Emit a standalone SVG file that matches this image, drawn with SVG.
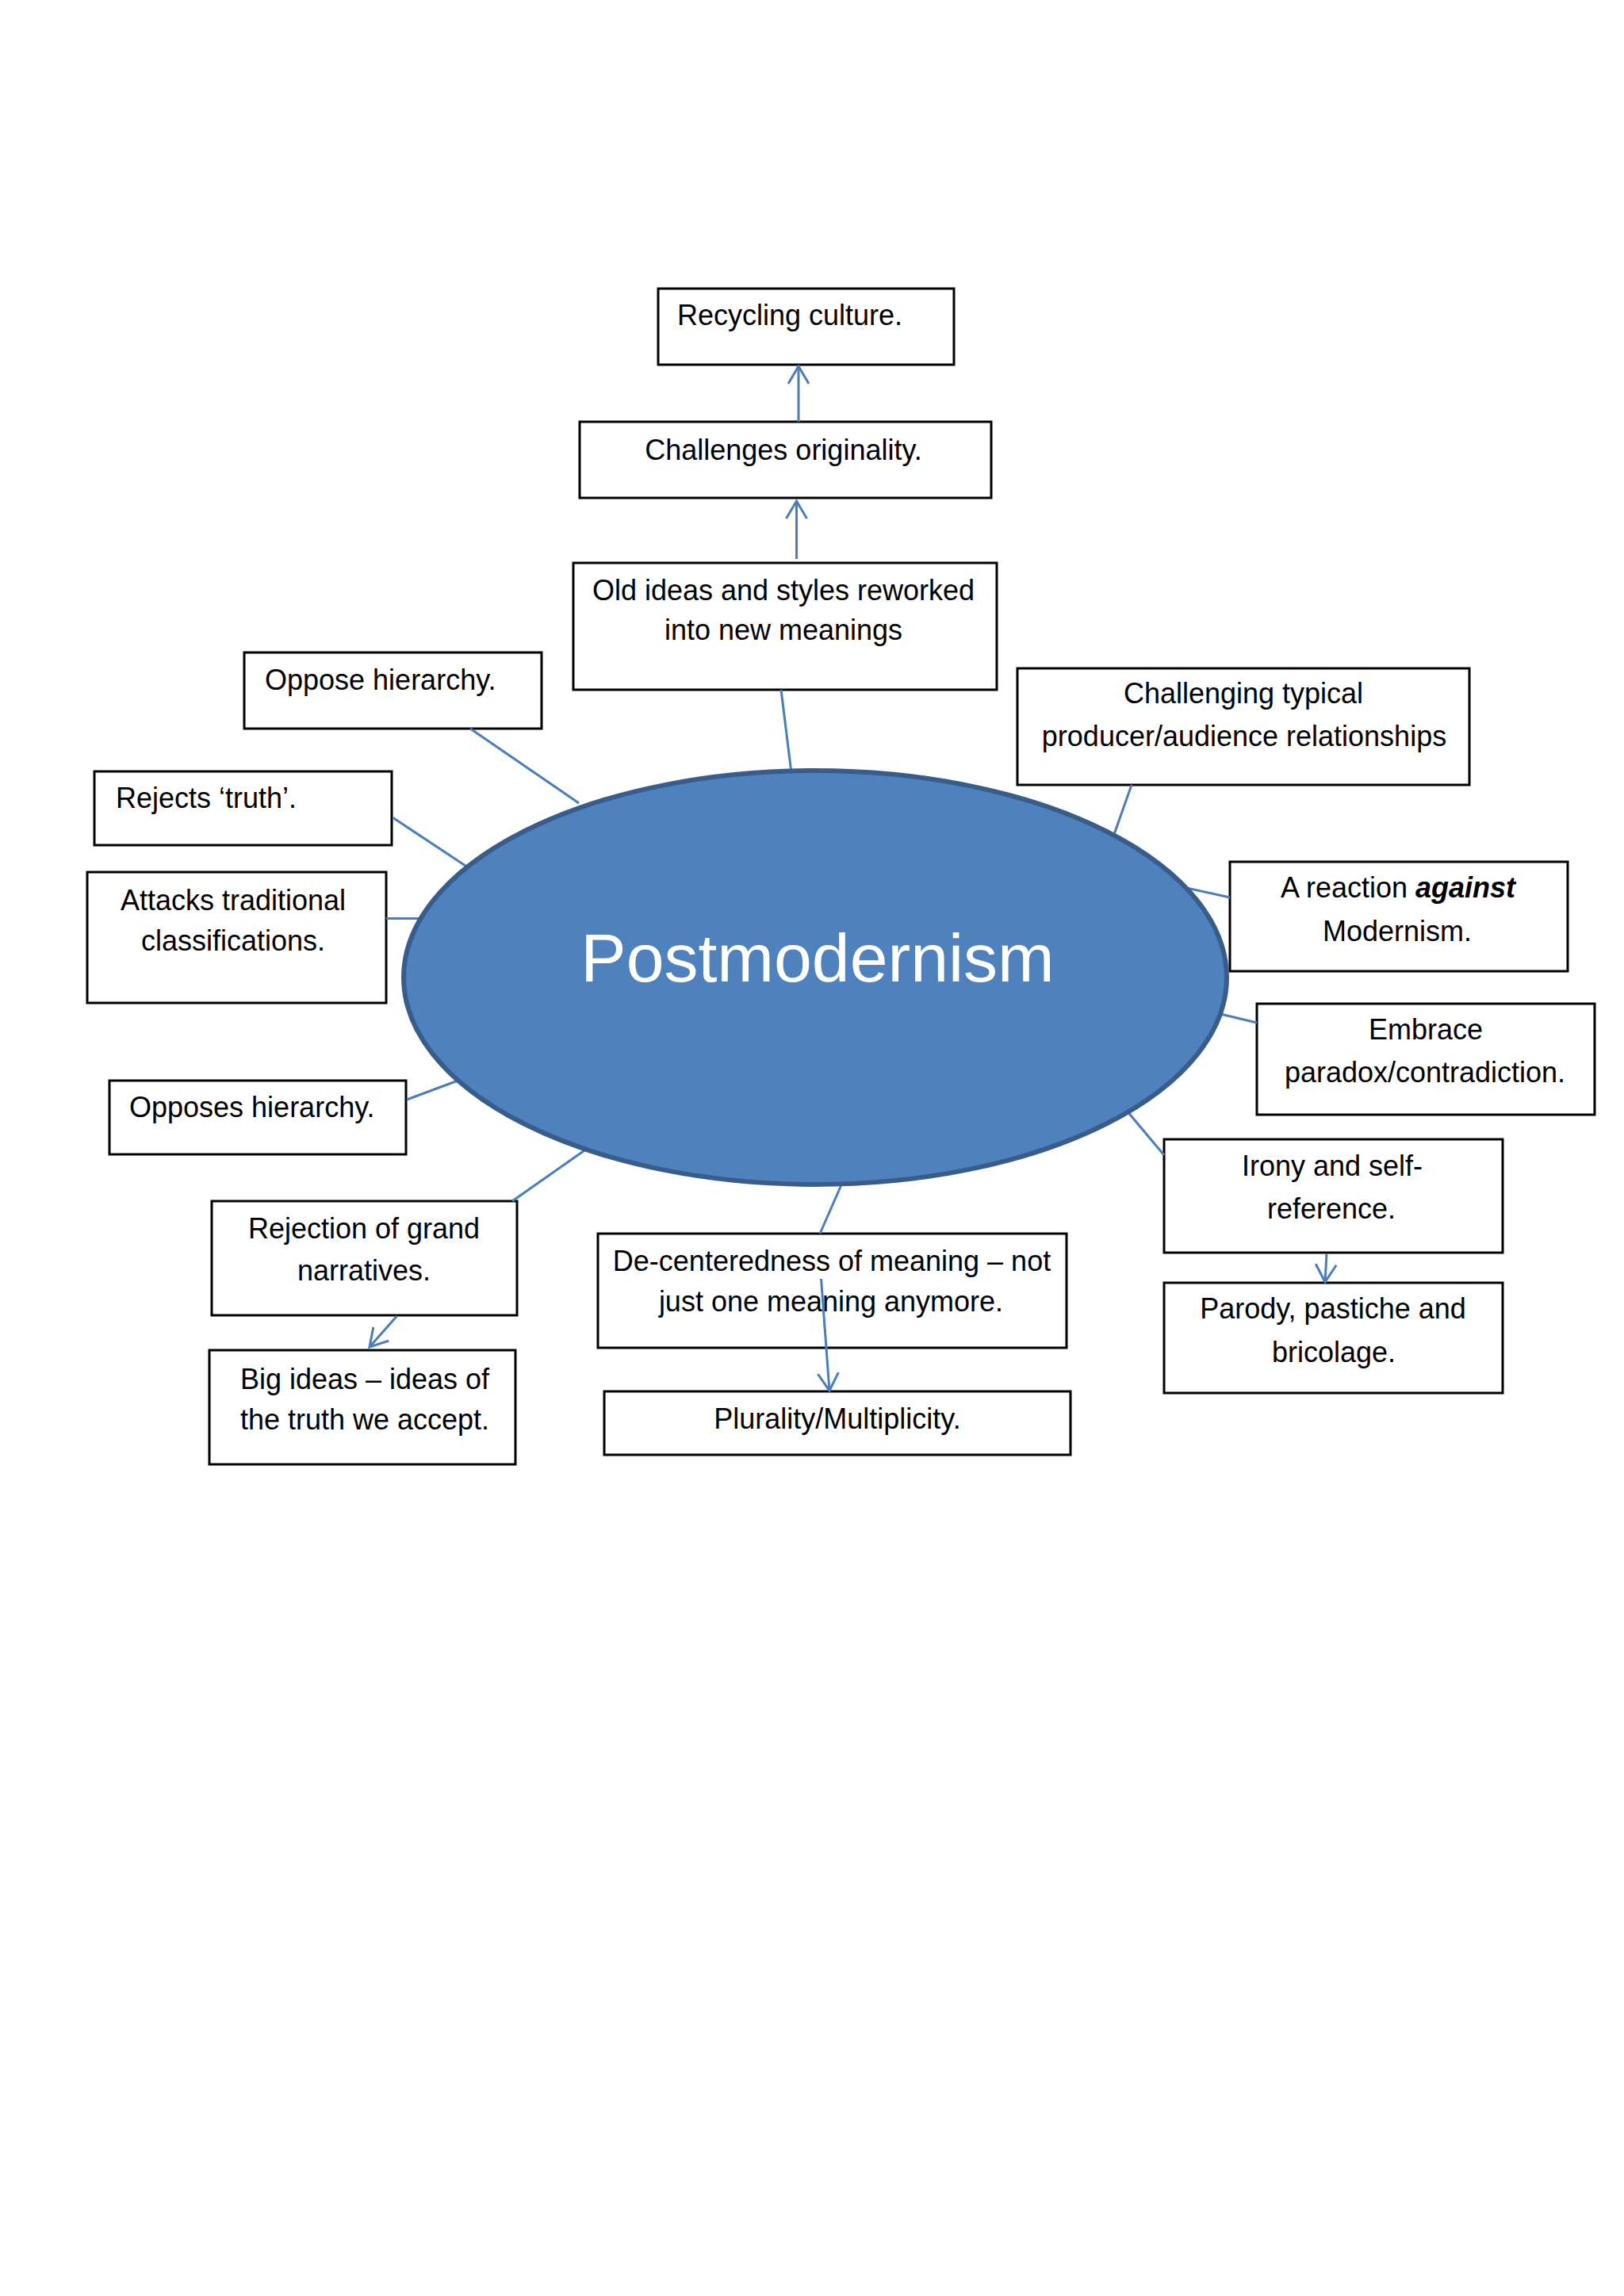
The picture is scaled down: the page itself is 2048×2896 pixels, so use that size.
<svg xmlns="http://www.w3.org/2000/svg" width="2048" height="2896" viewBox="0 0 2048 2896">
<style>
.box{fill:#ffffff;stroke:#000000;stroke-width:3}
.t{font-family:"Liberation Sans",Arial,sans-serif;font-size:36px;fill:#000000}
.c{text-anchor:middle}
.conn{stroke:#4a7ebb;stroke-width:3;fill:none}
.title{font-family:"Liberation Sans",Arial,sans-serif;font-size:86px;fill:#ffffff;text-anchor:middle}
</style>
<defs>
<marker id="arr" markerUnits="userSpaceOnUse" markerWidth="34" markerHeight="34" viewBox="-28 -17 34 34" refX="0" refY="0" orient="auto">
<path d="M-22,-13 L0,0 L-22,13" fill="none" stroke="#4a7ebb" stroke-width="3"/>
</marker>
</defs>
<rect width="2048" height="2896" fill="#ffffff"/>

<g id="n-recycling"><rect class="box" x="830" y="364" width="373" height="96"/><text class="t" x="854" y="410">Recycling culture.</text></g>
<g id="n-challenges"><rect class="box" x="731" y="532" width="519" height="96"/><text class="t c" x="988" y="580">Challenges originality.</text></g>
<g id="n-oldideas"><rect class="box" x="723" y="710" width="534" height="160"/><text class="t c" x="988" y="757">Old ideas and styles reworked</text><text class="t c" x="988" y="807">into new meanings</text></g>
<g id="n-oppose"><rect class="box" x="308" y="823" width="375" height="96"/><text class="t" x="334" y="870">Oppose hierarchy.</text></g>
<g id="n-rejects"><rect class="box" x="119" y="973" width="375" height="93"/><text class="t" x="146" y="1019">Rejects ‘truth’.</text></g>
<g id="n-attacks"><rect class="box" x="110" y="1100" width="377" height="165"/><text class="t c" x="294" y="1148">Attacks traditional</text><text class="t c" x="294" y="1199">classifications.</text></g>
<g id="n-opposes"><rect class="box" x="138" y="1363" width="374" height="93"/><text class="t" x="163" y="1409">Opposes hierarchy.</text></g>
<g id="n-rejection"><rect class="box" x="267" y="1515" width="385" height="144"/><text class="t c" x="459" y="1562">Rejection of grand</text><text class="t c" x="459" y="1615">narratives.</text></g>
<g id="n-bigideas"><rect class="box" x="264" y="1703" width="386" height="144"/><text class="t c" x="460" y="1752">Big ideas – ideas of</text><text class="t c" x="460" y="1803">the truth we accept.</text></g>
<g id="n-decenter"><rect class="box" x="754" y="1556" width="591" height="144"/><text class="t c" x="1049" y="1603">De-centeredness of meaning – not</text><text class="t c" x="1048" y="1654">just one meaning anymore.</text></g>
<g id="n-plurality"><rect class="box" x="762" y="1755" width="588" height="80"/><text class="t c" x="1056" y="1802">Plurality/Multiplicity.</text></g>
<g id="n-producer"><rect class="box" x="1283" y="843" width="570" height="147"/><text class="t c" x="1568" y="887">Challenging typical</text><text class="t c" x="1569" y="941">producer/audience relationships</text></g>
<g id="n-reaction"><rect class="box" x="1551" y="1087" width="426" height="138"/><text class="t c" x="1763" y="1132">A reaction <tspan font-weight="bold" font-style="italic">against</tspan></text><text class="t c" x="1762" y="1187">Modernism.</text></g>
<g id="n-embrace"><rect class="box" x="1585" y="1266" width="426" height="140"/><text class="t c" x="1798" y="1311">Embrace</text><text class="t c" x="1797" y="1365">paradox/contradiction.</text></g>
<g id="n-irony"><rect class="box" x="1468" y="1437" width="427" height="143"/><text class="t c" x="1680" y="1483">Irony and self-</text><text class="t c" x="1679" y="1537">reference.</text></g>
<g id="n-parody"><rect class="box" x="1468" y="1618" width="427" height="139"/><text class="t c" x="1681" y="1663">Parody, pastiche and</text><text class="t c" x="1682" y="1718">bricolage.</text></g>

<g id="connectors">
<line class="conn" x1="1007" y1="532" x2="1007" y2="462" marker-end="url(#arr)"/>
<line class="conn" x1="1004.5" y1="705" x2="1004.5" y2="632" marker-end="url(#arr)"/>
<line class="conn" x1="500.5" y1="1660" x2="466" y2="1699" marker-end="url(#arr)"/>
<line class="conn" x1="1035.5" y1="1613" x2="1046" y2="1754" marker-end="url(#arr)"/>
<line class="conn" x1="1673" y1="1581" x2="1671" y2="1617" marker-end="url(#arr)"/>
<line class="conn" x1="985" y1="870" x2="998" y2="975"/>
<line class="conn" x1="593" y1="919" x2="730" y2="1013"/>
<line class="conn" x1="495" y1="1031" x2="590" y2="1094"/>
<line class="conn" x1="487" y1="1158.5" x2="534" y2="1158.5"/>
<line class="conn" x1="513" y1="1387" x2="580" y2="1362"/>
<line class="conn" x1="646" y1="1515" x2="740" y2="1449"/>
<line class="conn" x1="1063" y1="1490" x2="1034" y2="1556"/>
<line class="conn" x1="1427" y1="990" x2="1403" y2="1058"/>
<line class="conn" x1="1492" y1="1119" x2="1551" y2="1132"/>
<line class="conn" x1="1535" y1="1278" x2="1585" y2="1290"/>
<line class="conn" x1="1421" y1="1401" x2="1468" y2="1457"/>
</g>

<g id="n-postmodernism">
<ellipse cx="1028" cy="1233" rx="519" ry="261" fill="#4f81bd" stroke="#385d8a" stroke-width="6"/>
<text class="title" x="1031" y="1238">Postmodernism</text>
</g>
</svg>
